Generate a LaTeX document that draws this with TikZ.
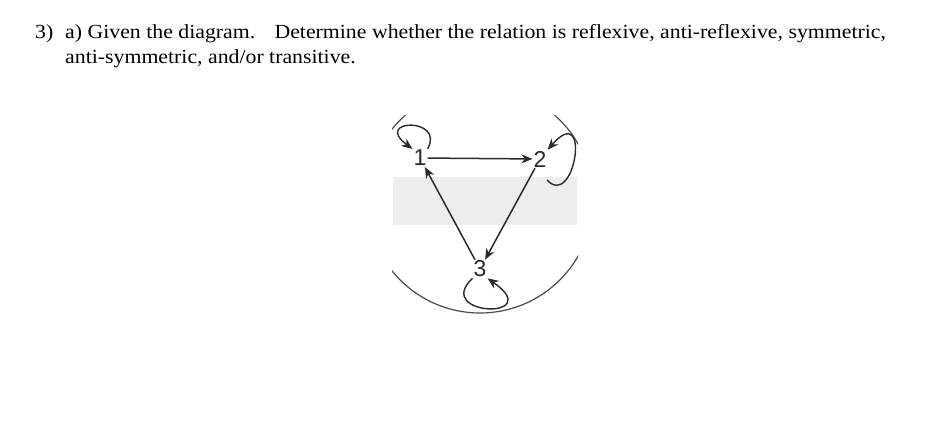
\documentclass[tikz,border=0pt]{standalone}
\usepackage{fontspec}
\setmainfont{Liberation Serif}[FakeStretch=1.09]
\newfontfamily\numfont{Liberation Sans}
\usetikzlibrary{arrows.meta,calc}
\definecolor{ink}{HTML}{2A2A2A}
\definecolor{oval}{HTML}{4A4A4A}
\tikzset{
  title/.style={anchor=base west, inner sep=0pt, font=\fontsize{20}{25}\selectfont},
  vtx/.style={font=\numfont\fontsize{23}{23}\selectfont, text=ink, inner sep=1pt},
  arr/.style={draw=ink, line width=1.5pt, -{Stealth[length=11pt,width=9pt]}},
  loopline/.style={draw=ink, line width=1.4pt, -{Stealth[length=11pt,width=9pt]}}
}
\begin{document}
\begin{tikzpicture}[x=1pt,y=1pt]
\useasboundingbox (0,0) rectangle (946,-424);
% title
\node[title] (q) at (35,-38) {3)};
\node[title] (l1) at (65,-38) {a)\ Given the diagram.\hspace{0.6em} Determine whether the relation is reflexive, anti-reflexive, symmetric,};
\node[title] (l2) at (65,-63) {anti-symmetric, and/or transitive.};
% scan background band
\fill[black!7] (393,-177) rectangle (577,-225);
% big oval (clipped by the scan)
\begin{scope}
\clip (392,-115) rectangle (578,-316);
\draw[oval, line width=1.2pt] (480,-200) circle [radius=113];
\end{scope}
% vertices
\node[vtx] (n1) at (420,-158) {1};
\node[vtx] (n2) at (540,-159) {2};
\node[vtx] (n3) at (480,-269) {3};
\coordinate (l2s) at (547,-180);
% edges
\draw[arr] (n1) -- (n2);
\draw[arr] (n2) -- (n3);
\draw[arr] (n3) -- (n1);
% loops
\draw[loopline] (n1.north east) .. controls +(18,32) and +(-40,30) .. (n1.north west);
\draw[loopline] (l2s) .. controls +(28,-30) and +(44,50) .. (n2.north east);
\draw[loopline] (n3.south west) .. controls +(-40,-38) and +(60,-42) .. (n3.south east);
\end{tikzpicture}
\end{document}
